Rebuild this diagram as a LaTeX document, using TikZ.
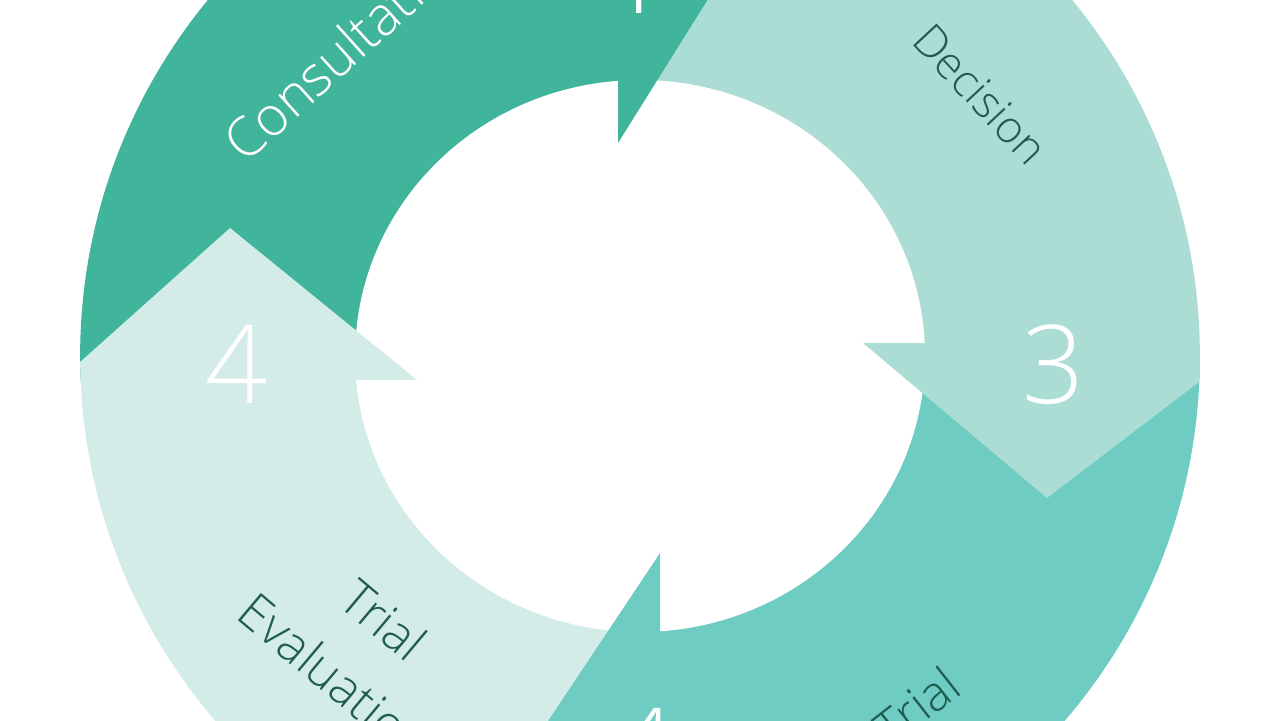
\documentclass[tikz,border=0pt]{standalone}
\usepackage{fontspec}
\IfFontExistsTF{Open Sans Light}{\setmainfont{Open Sans Light}}{\setmainfont{Open Sans}}
\definecolor{cA}{HTML}{40B59B}
\definecolor{cB}{HTML}{ACDDD4}
\definecolor{cC}{HTML}{6FCCC3}
\definecolor{cD}{HTML}{D3ECE8}
\definecolor{txt}{HTML}{1F5B4F}
\begin{document}
\begin{tikzpicture}[x=0.02cm,y=-0.02cm,
  num/.style={text=white,font=\fontsize{62}{62}\selectfont,inner sep=0pt,anchor=base},
  lbl/.style={inner sep=0pt}]
\useasboundingbox (0,0) rectangle (1280,720);
\clip (0,0) rectangle (1280,720);
\coordinate (O) at (640,356);
\begin{scope}
  \clip (O) circle[radius=11.2cm];
  % ring sectors
  \fill[cA] (-100,-300) rectangle (618,380);
  \fill[cB] (618,-300) rectangle (1400,343);
  \fill[cC] (660,343) rectangle (1400,1000);
  \fill[cD] (-100,380) rectangle (660,1000);
  % inner hole
  \fill[white] (O) ellipse[x radius=5.7cm, y radius=5.52cm];
  % arrow heads
  \fill[cA] (618,143) -- (745,-60) -- (618,-300) -- cycle;
  \fill[cB] (863,343) -- (1047,498) -- (1250,343) -- cycle;
  \fill[cC] (660,553) -- (522,760) -- (660,1000) -- cycle;
  \fill[cD] (417,380) -- (230,228) -- (60,380) -- cycle;
\end{scope}
% numbers
\node[num] (n1) at (637,13) {1};
\node[num] (n3) at (1054,403) {3};
\node[num] (n4) at (237,403) {4};
\node[num] (n4b) at (645,786) {4};
% labels
\node[lbl,font=\fontsize{31}{36}\selectfont,text=white,rotate=42,anchor=base west] (consult) at (245,165) {Consultation};
\node[lbl,font=\fontsize{25.5}{30}\selectfont,text=txt,rotate=-47,anchor=base west] (decision) at (910,42) {Decision};
\node[lbl,font=\fontsize{28}{34}\selectfont,text=txt,rotate=38,anchor=base east] (trial) at (964,692) {Trial};
\node[lbl,font=\fontsize{28.5}{43}\selectfont,text=txt,rotate=-40,align=center] (trialeval) at (360,649) {Trial\\Evaluation};
\end{tikzpicture}
\end{document}
